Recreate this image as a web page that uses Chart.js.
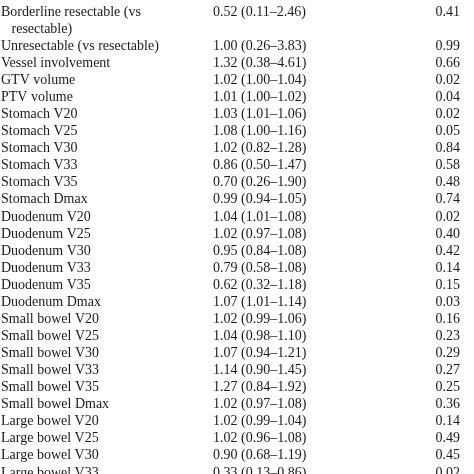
<!DOCTYPE html>
<html>
<head>
<meta charset="utf-8">
<script src="https://cdn.jsdelivr.net/npm/chart.js@4/dist/chart.umd.min.js"></script>
<style>
  html, body { margin: 0; padding: 0; background: #fff; }
  #wrap { width: 474px; height: 474px; }
</style>
</head>
<body>
<div id="wrap"><canvas id="myChart"></canvas></div>
<script>
const rowLabels = [
  "Borderline resectable (vs", "   resectable)", "Unresectable (vs resectable)",
  "Vessel involvement", "GTV volume", "PTV volume",
  "Stomach V20", "Stomach V25", "Stomach V30", "Stomach V33", "Stomach V35", "Stomach Dmax",
  "Duodenum V20", "Duodenum V25", "Duodenum V30", "Duodenum V33", "Duodenum V35", "Duodenum Dmax",
  "Small bowel V20", "Small bowel V25", "Small bowel V30", "Small bowel V33", "Small bowel V35", "Small bowel Dmax",
  "Large bowel V20", "Large bowel V25", "Large bowel V30", "Large bowel V33"
];
const oddsRatios = [
  "0.52 (0.11–2.46)", "", "1.00 (0.26–3.83)",
  "1.32 (0.38–4.61)", "1.02 (1.00–1.04)", "1.01 (1.00–1.02)",
  "1.03 (1.01–1.06)", "1.08 (1.00–1.16)", "1.02 (0.82–1.28)", "0.86 (0.50–1.47)", "0.70 (0.26–1.90)", "0.99 (0.94–1.05)",
  "1.04 (1.01–1.08)", "1.02 (0.97–1.08)", "0.95 (0.84–1.08)", "0.79 (0.58–1.08)", "0.62 (0.32–1.18)", "1.07 (1.01–1.14)",
  "1.02 (0.99–1.06)", "1.04 (0.98–1.10)", "1.07 (0.94–1.21)", "1.14 (0.90–1.45)", "1.27 (0.84–1.92)", "1.02 (0.97–1.08)",
  "1.02 (0.99–1.04)", "1.02 (0.96–1.08)", "0.90 (0.68–1.19)", "0.33 (0.13–0.86)"
];
const pValues = [
  "0.41", "", "0.99",
  "0.66", "0.02", "0.04",
  "0.02", "0.05", "0.84", "0.58", "0.48", "0.74",
  "0.02", "0.40", "0.42", "0.14", "0.15", "0.03",
  "0.16", "0.23", "0.29", "0.27", "0.25", "0.36",
  "0.14", "0.49", "0.45", "0.02"
];

const rowStep = 17.07;
const firstRowY = 12;
const yMin = -firstRowY / rowStep;
const yMax = yMin + 474 / rowStep;

const tableText = {
  id: "tableText",
  afterDatasetsDraw: (chart) => {
    const ctx = chart.ctx;
    const yScale = chart.scales.y;
    ctx.save();
    ctx.font = "14px 'Liberation Serif', 'DejaVu Serif', serif";
    ctx.fillStyle = "#1a1a1a";
    ctx.textBaseline = "middle";
    rowLabels.forEach((label, i) => {
      const y = yScale.getPixelForValue(i);
      ctx.textAlign = "left";
      ctx.fillText(label, 1, y);
      ctx.fillText(oddsRatios[i], 213, y);
      ctx.textAlign = "right";
      ctx.fillText(pValues[i], 460, y);
    });
    ctx.restore();
  },
};

const config = {
  type: "scatter",
  data: {
    datasets: [
      {
        data: rowLabels.map((label, i) => ({ x: 0, y: i })),
        pointRadius: 0,
      },
    ],
  },
  options: {
    responsive: true,
    maintainAspectRatio: false,
    animation: false,
    layout: { padding: 0 },
    plugins: { legend: { display: false }, tooltip: { enabled: false } },
    scales: {
      x: { display: false, min: 0, max: 1 },
      y: { display: false, reverse: true, min: yMin, max: yMax },
    },
  },
  plugins: [tableText],
};

new Chart(document.getElementById("myChart"), config);
</script>
</body>
</html>
